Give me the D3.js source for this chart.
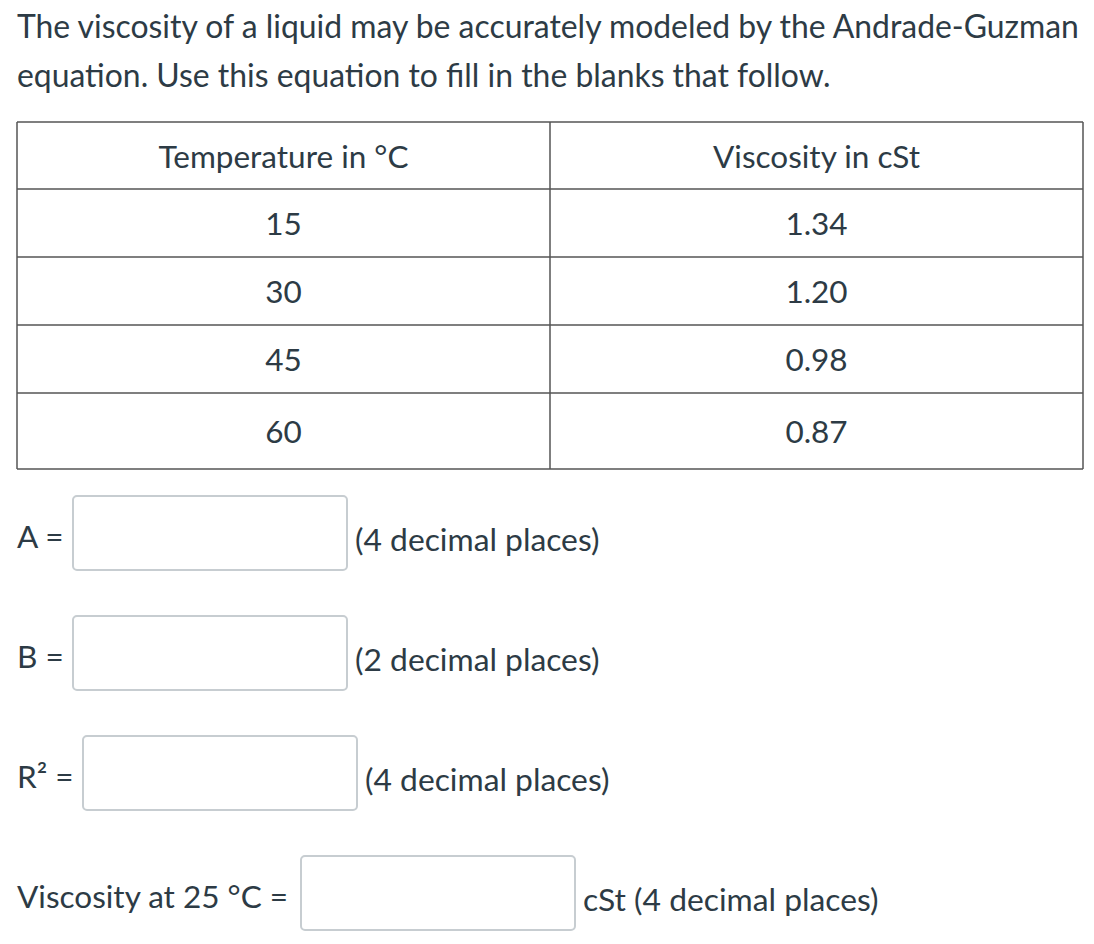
<!DOCTYPE html>
<html>
<head>
<style>
  html, body { margin: 0; padding: 0; background: #fff; }
  text { font-family: Lato, "Open Sans", sans-serif; fill: #2d3b45; }
</style>
<script src="https://d3js.org/d3.v7.min.js"></script>
</head>
<body>
<svg id="chart"></svg>
<script>
const introLines = ["The viscosity of a liquid may be accurately modeled by the Andrade-Guzman",
                    "equation. Use this equation to fill in the blanks that follow."];
const headers = ["Temperature in °C", "Viscosity in cSt"];
const temps = ["15", "30", "45", "60"];
const viscs = ["1.34", "1.20", "0.98", "0.87"];
const fieldLabels = ["A =", "B =", "R² =", "Viscosity at 25 °C ="];
const fieldNotes = ["(4 decimal places)", "(2 decimal places)", "(4 decimal places)", "cSt (4 decimal places)"];
const fieldBoxX = [73, 73, 83, 301];

const width = 1094, height = 944;
const svg = d3.select("#chart").attr("width", width).attr("height", height);

svg.selectAll(".intro").data(introLines).enter().append("text")
  .attr("x", 17).attr("y", (d, i) => 38 + i * 49)
  .attr("font-size", 31.9).text(d => d);

// table
const rowEdges = [122, 189, 257, 325, 393, 469];
const tblX0 = 17, tblX1 = 1083, colSplit = 550;
const rows = [headers].concat(temps.map((t, i) => [t, viscs[i]]));
const g = svg.append("g");
rowEdges.forEach(y => g.append("line").attr("x1", tblX0).attr("x2", tblX1)
  .attr("y1", y).attr("y2", y).attr("stroke", "#555").attr("stroke-width", 1.5));
[tblX0, colSplit, tblX1].forEach(x => g.append("line").attr("x1", x).attr("x2", x)
  .attr("y1", rowEdges[0]).attr("y2", rowEdges[5]).attr("stroke", "#555").attr("stroke-width", 1.5));
const colMid = [(tblX0 + colSplit) / 2, (colSplit + tblX1) / 2];
rows.forEach((r, i) => {
  const yc = (rowEdges[i] + rowEdges[i + 1]) / 2 + 1;
  r.forEach((c, j) => g.append("text").attr("x", colMid[j]).attr("y", yc)
    .attr("dy", "0.35em").attr("text-anchor", "middle").attr("font-size", 31.5).text(c));
});

// answer fields
fieldLabels.forEach((lab, i) => {
  const top = 496 + i * 120, bx = fieldBoxX[i];
  svg.append("text").attr("x", 17).attr("y", top + 41).attr("dy", "0.35em")
    .attr("font-size", 31.5).text(lab);
  svg.append("rect").attr("x", bx).attr("y", top).attr("width", 274).attr("height", 74)
    .attr("rx", 4).attr("fill", "#fff").attr("stroke", "#c7cdd1").attr("stroke-width", 2);
  svg.append("text").attr("x", bx + 282).attr("y", top + 44).attr("dy", "0.35em")
    .attr("font-size", 31.8).text(fieldNotes[i]);
});
</script>
</body>
</html>
